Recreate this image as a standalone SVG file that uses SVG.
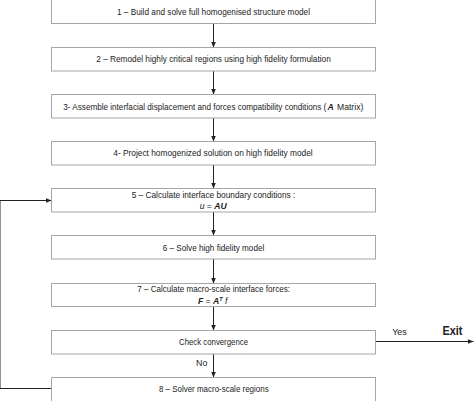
<svg xmlns="http://www.w3.org/2000/svg" width="474" height="401" viewBox="0 0 474 401">
<style>
.box{fill:#fff;stroke:#a6a6a6;stroke-width:1}
.t{font-family:"Liberation Sans",Arial,sans-serif;font-size:8.6px;fill:#222;text-anchor:middle}
.s{text-anchor:start}
.e{text-anchor:end}
.c{fill:none;stroke:#222;stroke-width:1}
.bi{font-weight:bold;font-style:italic}
.i{font-style:italic}
</style>
<defs>
<marker id="ah" markerWidth="6" markerHeight="6" refX="6" refY="3" orient="auto" markerUnits="userSpaceOnUse">
<path d="M0,0.5 L6,3 L0,5.5 z" fill="#222"/>
</marker>
</defs>
<g id="connectors">
<line class="c" x1="213.5" y1="23.5" x2="213.5" y2="47.5" marker-end="url(#ah)"/>
<line class="c" x1="213.5" y1="71" x2="213.5" y2="94.5" marker-end="url(#ah)"/>
<line class="c" x1="213.5" y1="118" x2="213.5" y2="141.5" marker-end="url(#ah)"/>
<line class="c" x1="213.5" y1="165" x2="213.5" y2="188.5" marker-end="url(#ah)"/>
<line class="c" x1="213.5" y1="212" x2="213.5" y2="235.5" marker-end="url(#ah)"/>
<line class="c" x1="213.5" y1="259" x2="213.5" y2="283.5" marker-end="url(#ah)"/>
<line class="c" x1="213.5" y1="306.5" x2="213.5" y2="330.5" marker-end="url(#ah)"/>
<line class="c" x1="213.5" y1="354" x2="213.5" y2="377.5" marker-end="url(#ah)"/>
<line class="c" x1="375.5" y1="341.5" x2="473.5" y2="341.5" marker-end="url(#ah)"/>
<path class="c" d="M51.5,388.5 H0 V200.5 H51.5" marker-end="url(#ah)"/>
<text class="t" x="399.5" y="334.5" textLength="14.5" lengthAdjust="spacingAndGlyphs">Yes</text>
<text class="t" x="452.5" y="335" style="font-size:13px;font-weight:bold" textLength="20" lengthAdjust="spacingAndGlyphs">Exit</text>
<text class="t" x="201.7" y="365.5" textLength="11.3" lengthAdjust="spacingAndGlyphs">No</text>
</g>
<g id="n1">
<rect class="box" x="51.5" y="-0.5" width="324" height="24"/>
<text class="t" x="213.5" y="15" textLength="193" lengthAdjust="spacingAndGlyphs">1 – Build and solve full homogenised structure model</text>
</g>
<g id="n2">
<rect class="box" x="51.5" y="47.5" width="324" height="23.5"/>
<text class="t" x="213.5" y="62" textLength="234.5" lengthAdjust="spacingAndGlyphs">2 – Remodel highly critical regions using high fidelity formulation</text>
</g>
<g id="n3">
<rect class="box" x="51.5" y="94.5" width="324" height="23.5"/>
<text class="t s" x="63.3" y="109.5" textLength="258" lengthAdjust="spacingAndGlyphs">3- Assemble interfacial displacement and forces compatibility conditions</text>
<text class="t e" x="363.3" y="109.5">(<tspan class="bi" dx="1">A</tspan><tspan dx="1"> Matrix)</tspan></text>
</g>
<g id="n4">
<rect class="box" x="51.5" y="141.5" width="324" height="23.5"/>
<text class="t" x="213" y="156" textLength="199.4" lengthAdjust="spacingAndGlyphs">4- Project homogenized solution on high fidelity model</text>
</g>
<g id="n5">
<rect class="box" x="51.5" y="188.5" width="324" height="23.5"/>
<text class="t" x="213.5" y="198" textLength="163.6" lengthAdjust="spacingAndGlyphs">5 – Calculate interface boundary conditions  :</text>
<text class="t" x="213.2" y="208.8" textLength="27" lengthAdjust="spacingAndGlyphs"><tspan class="i">u</tspan> = <tspan class="bi">AU</tspan></text>
</g>
<g id="n6">
<rect class="box" x="51.5" y="235.5" width="324" height="23.5"/>
<text class="t" x="213.5" y="250.5" textLength="101.6" lengthAdjust="spacingAndGlyphs">6 – Solve high fidelity model</text>
</g>
<g id="n7">
<rect class="box" x="51.5" y="283.5" width="324" height="23"/>
<text class="t" x="213.6" y="292" textLength="152.7" lengthAdjust="spacingAndGlyphs">7 – Calculate macro-scale interface forces:</text>
<text class="t" x="212.7" y="303.8"><tspan class="bi">F</tspan> = <tspan class="bi">A</tspan><tspan class="bi" dy="-3" style="font-size:5.5px">T</tspan><tspan class="i" dy="3"> f</tspan></text>
</g>
<g id="n8">
<rect class="box" x="51.5" y="330.5" width="324" height="23.5"/>
<text class="t" x="213.5" y="344.8" textLength="69" lengthAdjust="spacingAndGlyphs">Check convergence</text>
</g>
<g id="n9">
<rect class="box" x="51.5" y="377.5" width="324" height="24"/>
<text class="t" x="213.8" y="391.8" textLength="109.7" lengthAdjust="spacingAndGlyphs">8 – Solver macro-scale regions</text>
</g>
</svg>
